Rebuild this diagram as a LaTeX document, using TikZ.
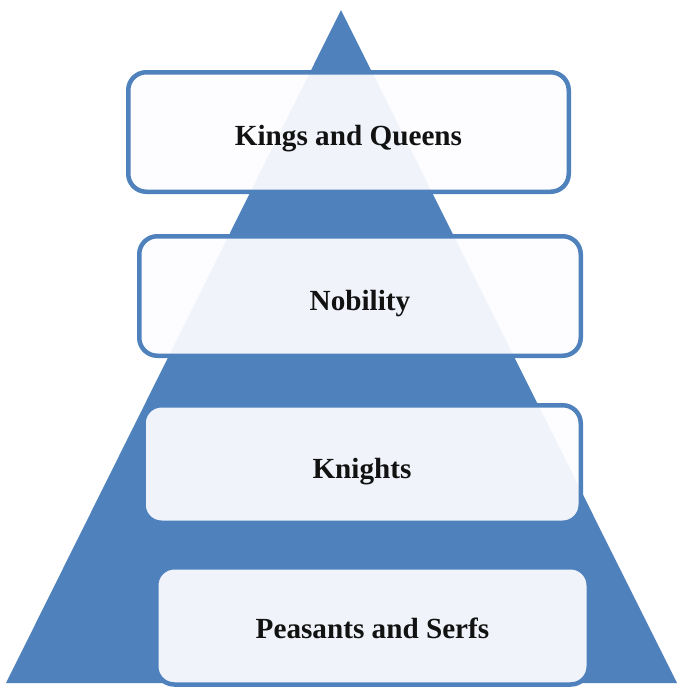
\documentclass[tikz,border=0pt]{standalone}
\usepackage{fontspec}
\setmainfont{Liberation Serif}
\begin{document}
\begin{tikzpicture}[x=1pt,y=-1pt,
  pyr/.style={fill=pblue,draw=none},
  tier/.style={draw=pblue,line width=4.5pt,rounded corners=18pt,fill=pfill,fill opacity=0.93},
  tierlabel/.style={anchor=base,inner sep=0pt,text=black!93,font=\fontsize{29.2}{34}\selectfont\bfseries}
]
\definecolor{pblue}{RGB}{79,129,189}
\definecolor{pfill}{RGB}{253,253,255}
\useasboundingbox (0,0) rectangle (685,689);
% pyramid
\coordinate (apex) at (341,10);
\coordinate (bl) at (6,683);
\coordinate (br) at (677,683);
\fill[pyr] (apex) -- (bl) -- (br) -- cycle;
% tiers
\draw[tier] (128.25,72.25) rectangle (568.75,191.75);
\coordinate (t1) at (348.5,132);
\draw[tier] (139.25,236.25) rectangle (580.75,355.75);
\coordinate (t2) at (360,296);
\draw[tier] (143.5,405.25) rectangle (580.75,522.75);
\coordinate (t3) at (362,464);
\draw[tier] (156.25,567.25) rectangle (588.75,684.5);
\coordinate (t4) at (372.5,625);
% labels
\node[tierlabel] (l1) at ([yshift=-13.5pt]t1) {Kings and Queens};
\node[tierlabel] (l2) at ([yshift=-14pt]t2) {Nobility};
\node[tierlabel] (l3) at ([yshift=-14pt]t3) {Knights};
\node[tierlabel] (l4) at ([yshift=-13pt]t4) {Peasants and Serfs};
\end{tikzpicture}
\end{document}
